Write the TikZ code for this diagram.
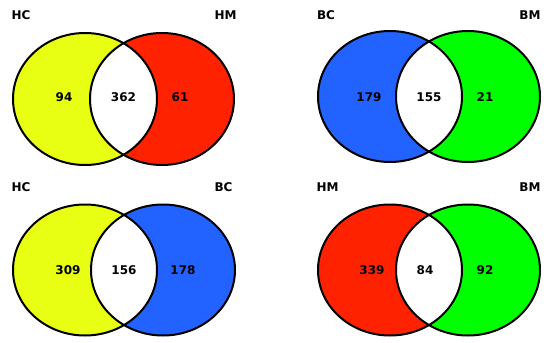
\documentclass[tikz,border=0pt]{standalone}
\usepackage{fontspec}
\setmainfont{DejaVu Sans}
\definecolor{vyellow}{RGB}{232,255,20}
\definecolor{vred}{RGB}{255,34,0}
\definecolor{vblue}{RGB}{34,98,255}
\definecolor{vgreen}{RGB}{0,255,0}
\tikzset{
  vtext/.style={inner sep=0pt, anchor=center, font=\fontsize{12}{14}\selectfont\bfseries},
  vline/.style={draw=black, line width=2pt},
}
% #1 left cx, #2 right cx, #3 cy, #4 ry, #5 left colour, #6 right colour
\newcommand\vennpair[6]{%
  \fill[#5] (#1,#3) ellipse [x radius=72, y radius=#4];
  \fill[#6] (#2,#3) ellipse [x radius=72, y radius=#4];
  \begin{scope}
    \clip (#1,#3) ellipse [x radius=72, y radius=#4];
    \fill[white] (#2,#3) ellipse [x radius=72, y radius=#4];
  \end{scope}
  \draw[vline] (#1,#3) ellipse [x radius=72, y radius=#4];
  \draw[vline] (#2,#3) ellipse [x radius=72, y radius=#4];
}
\begin{document}
\begin{tikzpicture}[x=1pt,y=-1pt]
\useasboundingbox (0,0) rectangle (550,343);
\fill[white] (0,0) rectangle (550,343);
% top-left: HC / HM
\vennpair{85}{162}{99}{66}{vyellow}{vred}
\node[vtext] (tlA) at (21,15) {HC};
\node[vtext] (tlB) at (225.5,15) {HM};
\node[vtext] (tl1) at (64,97) {94};
\node[vtext] (tl2) at (123.5,97) {362};
\node[vtext] (tl3) at (180,97) {61};
% top-right: BC / BM
\vennpair{390}{468}{96.5}{65.5}{vblue}{vgreen}
\node[vtext] (trA) at (326,15) {BC};
\node[vtext] (trB) at (530,15) {BM};
\node[vtext] (tr1) at (369,97) {179};
\node[vtext] (tr2) at (429,97) {155};
\node[vtext] (tr3) at (485,97) {21};
% bottom-left: HC / BC
\vennpair{85}{163}{270}{65.5}{vyellow}{vblue}
\node[vtext] (blA) at (21,187) {HC};
\node[vtext] (blB) at (223.5,187) {BC};
\node[vtext] (bl1) at (68,270) {309};
\node[vtext] (bl2) at (124,270) {156};
\node[vtext] (bl3) at (183,270) {178};
% bottom-right: HM / BM
\vennpair{390}{468}{270}{65.5}{vred}{vgreen}
\node[vtext] (brA) at (327.5,187) {HM};
\node[vtext] (brB) at (530,187) {BM};
\node[vtext] (br1) at (372,270) {339};
\node[vtext] (br2) at (425,270) {84};
\node[vtext] (br3) at (485,270) {92};
\end{tikzpicture}
\end{document}
